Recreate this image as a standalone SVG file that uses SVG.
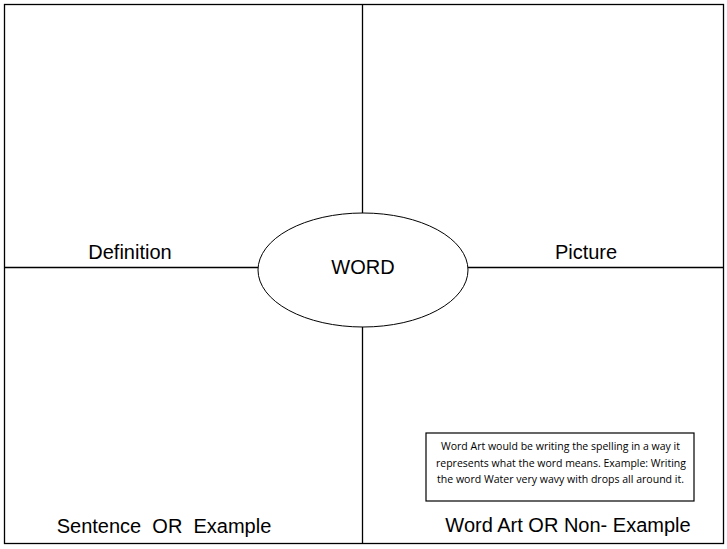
<svg xmlns="http://www.w3.org/2000/svg" width="727" height="549" viewBox="0 0 727 549">
<style>
.ln{stroke:#000;stroke-width:1.3;fill:none}
.lbl{font-family:"Liberation Sans",Arial,sans-serif;font-size:20px;fill:#000;text-anchor:middle}
.note{font-family:"Open Sans","Liberation Sans",sans-serif;font-size:10.3px;fill:#000;text-anchor:middle}
</style>
<rect width="727" height="549" fill="#fff"/>
<g id="connectors">
<rect class="ln" x="4.5" y="4.5" width="719" height="539"/>
<line class="ln" x1="362.5" y1="4.5" x2="362.5" y2="213"/>
<line class="ln" x1="362.5" y1="327" x2="362.5" y2="543.5"/>
<line class="ln" x1="4.5" y1="267.5" x2="258" y2="267.5"/>
<line class="ln" x1="468" y1="267.5" x2="723.5" y2="267.5"/>
</g>
<g id="word">
<ellipse cx="363" cy="270" rx="105" ry="57" fill="#fff" stroke="#000" stroke-width="1"/>
<text class="lbl" x="363" y="274">WORD</text>
</g>
<g id="definition"><text class="lbl" x="130" y="259">Definition</text></g>
<g id="picture"><text class="lbl" x="586" y="259">Picture</text></g>
<g id="sentence"><text class="lbl" x="164" y="533" xml:space="preserve">Sentence  OR  Example</text></g>
<g id="wordart">
<text class="lbl" x="568" y="532">Word Art OR Non- Example</text>
<rect x="426" y="433" width="268" height="68" fill="#fff" stroke="#000" stroke-width="1.2"/>
<text class="note" x="560.5" y="450" textLength="239" lengthAdjust="spacingAndGlyphs">Word Art would be writing the spelling in a way it</text>
<text class="note" x="561" y="467" textLength="250" lengthAdjust="spacingAndGlyphs">represents what the word means. Example: Writing</text>
<text class="note" x="560.5" y="483" textLength="247" lengthAdjust="spacingAndGlyphs">the word Water very wavy with drops all around it.</text>
</g>
</svg>
